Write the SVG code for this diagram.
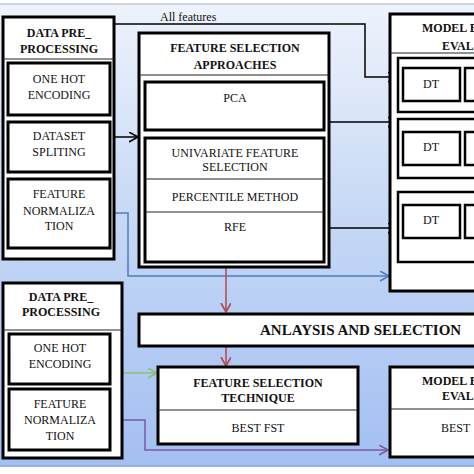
<svg xmlns="http://www.w3.org/2000/svg" width="474" height="474" viewBox="0 0 474 474">
<defs>
<linearGradient id="bg" x1="0" y1="0" x2="0" y2="1">
<stop offset="0" stop-color="#eef3fb"/>
<stop offset="0.5" stop-color="#c3d6f5"/>
<stop offset="1" stop-color="#a3c0f2"/>
</linearGradient>
<marker id="ak" markerUnits="userSpaceOnUse" markerWidth="12" markerHeight="12" refX="9" refY="5" orient="auto"><path d="M0,0 L9,5 L0,10" fill="none" stroke="#000" stroke-width="1.6"/></marker>
<marker id="ab" markerUnits="userSpaceOnUse" markerWidth="12" markerHeight="12" refX="9" refY="5" orient="auto"><path d="M0,0 L9,5 L0,10" fill="none" stroke="#4f7fb5" stroke-width="1.6"/></marker>
<marker id="ar" markerUnits="userSpaceOnUse" markerWidth="12" markerHeight="12" refX="9" refY="5" orient="auto"><path d="M0,0 L9,5 L0,10" fill="none" stroke="#b5484e" stroke-width="1.6"/></marker>
<marker id="ag" markerUnits="userSpaceOnUse" markerWidth="12" markerHeight="12" refX="9" refY="5" orient="auto"><path d="M0,0 L9,5 L0,10" fill="none" stroke="#8dc26b" stroke-width="1.6"/></marker>
<marker id="ap" markerUnits="userSpaceOnUse" markerWidth="12" markerHeight="12" refX="9" refY="5" orient="auto"><path d="M0,0 L9,5 L0,10" fill="none" stroke="#7b5aa6" stroke-width="1.6"/></marker>
</defs>
<style>
.box{fill:#fff;stroke:#000;stroke-width:3}
.sub{fill:#fff;stroke:#000;stroke-width:3}
.dt{fill:#fff;stroke:#000;stroke-width:2.5}
.div{stroke:#222;stroke-width:1}
text{font-family:"Liberation Serif","Times New Roman",serif;font-size:12px;fill:#111}
.b{font-weight:bold}
.c{text-anchor:middle}
.big{font-size:15px;font-weight:bold}
.ln{fill:none;stroke-width:1.5}
</style>
<rect x="0" y="0" width="474" height="474" fill="#fff"/>
<rect x="-2" y="4" width="478" height="462" fill="url(#bg)" stroke="#9fb0cc" stroke-width="1"/>
<line x1="0" y1="466" x2="474" y2="466" stroke="#8aa8dc" stroke-width="1.5"/>

<g id="connectors">
<path class="ln" stroke="#000" d="M110,24 H365 V77 H397" marker-end="url(#ak)"/>
<path class="ln" stroke="#000" d="M115,137 H138" marker-end="url(#ak)"/>
<path class="ln" stroke="#000" d="M330,122 H397" marker-end="url(#ak)"/>
<path class="ln" stroke="#000" d="M330,228 H397" marker-end="url(#ak)"/>
<path class="ln" stroke="#4f7fb5" d="M115,213 H128 V276 H389" marker-end="url(#ab)"/>
<path class="ln" stroke="#b5484e" d="M226,268 V312" marker-end="url(#ar)"/>
<path class="ln" stroke="#b5484e" d="M226,347 V366" marker-end="url(#ar)"/>
<path class="ln" stroke="#8dc26b" d="M122,373 H157" marker-end="url(#ag)"/>
<path class="ln" stroke="#7b5aa6" d="M122,420 H145 V450 H388" marker-end="url(#ap)"/>
</g>
<text x="160" y="21">All features</text>

<g id="dataprep1">
<rect class="box" x="3" y="17" width="111" height="242"/>
<line class="div" x1="3" y1="59" x2="114" y2="59"/>
<text class="b c" x="59" y="37">DATA PRE_</text>
<text class="b c" x="59" y="53">PROCESSING</text>
</g>
<g id="onehot1">
<rect class="sub" x="8" y="63" width="102" height="52"/>
<text class="c" x="59" y="83">ONE HOT</text>
<text class="c" x="59" y="99">ENCODING</text>
</g>
<g id="split1">
<rect class="sub" x="8" y="122" width="102" height="50"/>
<text class="c" x="59" y="140">DATASET</text>
<text class="c" x="59" y="156">SPLITING</text>
</g>
<g id="norm1">
<rect class="sub" x="8" y="179" width="102" height="69"/>
<text class="c" x="59" y="198">FEATURE</text>
<text class="c" x="59" y="215">NORMALIZA</text>
<text class="c" x="59" y="230">TION</text>
</g>

<g id="fsa">
<rect class="box" x="139" y="33" width="190" height="234"/>
<line class="div" x1="139" y1="75" x2="329" y2="75"/>
<text class="b c" x="235" y="52">FEATURE SELECTION</text>
<text class="b c" x="235" y="69">APPROACHES</text>
</g>
<g id="pca">
<rect class="sub" x="145" y="82" width="179" height="48"/>
<text class="c" x="235" y="102">PCA</text>
</g>
<g id="univariate">
<rect class="sub" x="145" y="138" width="179" height="124"/>
<line class="div" x1="145" y1="179" x2="324" y2="179"/>
<line class="div" x1="145" y1="212" x2="324" y2="212"/>
<text class="c" x="235" y="157">UNIVARIATE FEATURE</text>
<text class="c" x="235" y="171">SELECTION</text>
<text class="c" x="235" y="201">PERCENTILE METHOD</text>
<text class="c" x="235" y="231">RFE</text>
</g>

<g id="model1">
<rect class="box" x="390" y="14" width="100" height="277"/>
<line class="div" x1="390" y1="53" x2="480" y2="53"/>
<text class="b" x="422" y="32">MODEL B</text>
<text class="b" x="442" y="50">EVAL</text>
</g>
<g id="group1">
<rect class="dt" x="398" y="58" width="90" height="54"/>
<rect class="dt" x="403" y="68" width="57" height="33"/>
<rect class="dt" x="465" y="68" width="30" height="33"/>
<text class="c" x="431" y="88">DT</text>
</g>
<g id="group2">
<rect class="dt" x="398" y="119" width="90" height="59"/>
<rect class="dt" x="403" y="132" width="57" height="33"/>
<rect class="dt" x="465" y="132" width="30" height="33"/>
<text class="c" x="431" y="151">DT</text>
</g>
<g id="group3">
<rect class="dt" x="398" y="192" width="90" height="70"/>
<rect class="dt" x="403" y="205" width="57" height="33"/>
<rect class="dt" x="465" y="205" width="30" height="33"/>
<text class="c" x="431" y="224">DT</text>
</g>

<g id="analysis">
<rect class="box" x="139" y="314" width="345" height="32"/>
<text class="big" x="260" y="335">ANLAYSIS AND SELECTION</text>
</g>

<g id="dataprep2">
<rect class="box" x="3" y="283" width="119" height="175"/>
<line class="div" x1="3" y1="330" x2="122" y2="330"/>
<text class="b c" x="61" y="301">DATA PRE_</text>
<text class="b c" x="61" y="316">PROCESSING</text>
</g>
<g id="onehot2">
<rect class="sub" x="9" y="334" width="101" height="50"/>
<text class="c" x="60" y="352">ONE HOT</text>
<text class="c" x="60" y="368">ENCODING</text>
</g>
<g id="norm2">
<rect class="sub" x="9" y="389" width="101" height="61"/>
<text class="c" x="60" y="408">FEATURE</text>
<text class="c" x="60" y="424">NORMALIZA</text>
<text class="c" x="60" y="440">TION</text>
</g>

<g id="fst">
<rect class="box" x="158" y="367" width="200" height="77"/>
<line class="div" x1="158" y1="410" x2="358" y2="410"/>
<text class="b c" x="258" y="387">FEATURE SELECTION</text>
<text class="b c" x="258" y="402">TECHNIQUE</text>
<text class="c" x="258" y="432">BEST FST</text>
</g>

<g id="model2">
<rect class="box" x="390" y="367" width="100" height="90"/>
<line class="div" x1="390" y1="409" x2="480" y2="409"/>
<text class="b" x="422" y="385">MODEL B</text>
<text class="b" x="442" y="400">EVAL</text>
<text x="441" y="432">BEST</text>
</g>
</svg>
